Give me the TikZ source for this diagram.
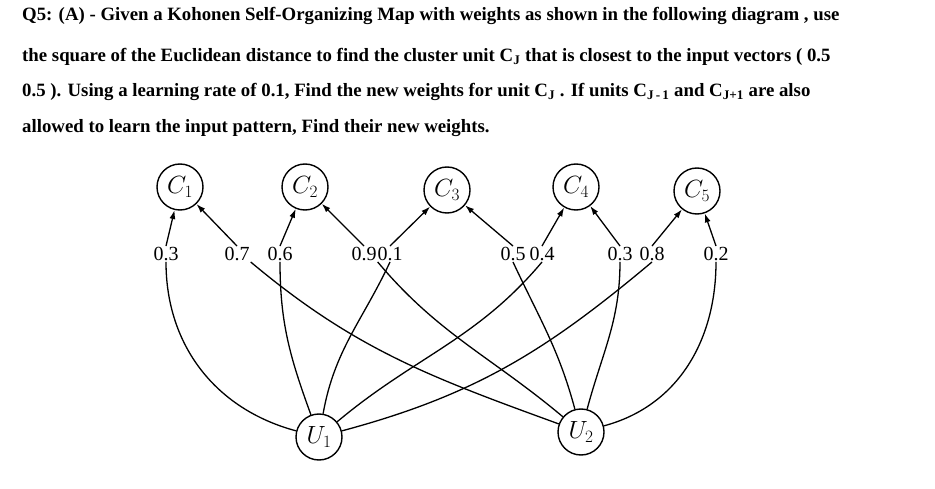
\documentclass[tikz,border=0pt]{standalone}
\usepackage{fontspec}
\setmainfont{Liberation Serif}
\usetikzlibrary{arrows.meta}
\begin{document}
\begin{tikzpicture}[x=1pt,y=-1pt,
  unit/.style={draw,circle,line width=1.4pt,minimum size=46pt,inner sep=0pt,font=\fontsize{24}{24}\selectfont},
  wt/.style={inner sep=1pt,font=\fontsize{20}{20}\selectfont},
  txt/.style={anchor=west,inner sep=0pt,font=\bfseries\fontsize{18.8}{20}\selectfont},
  arr/.style={line width=1.3pt,-{Latex[length=9pt,width=6pt]}},
  ln/.style={line width=1.3pt}]
\useasboundingbox (0,0) rectangle (935,489);
\node[txt] (t1) at (22,16) {Q5: (A) - Given a Kohonen Self-Organizing Map with weights as shown in the following diagram , use};
\node[txt] (t2) at (22,57) {the square of the Euclidean distance to find the cluster unit C\textsubscript{J} that is closest to the input vectors ( 0.5};
\node[txt] (t3) at (22,92) {0.5 ). Using a learning rate of 0.1, Find the new weights for unit C\textsubscript{J} . If units C\textsubscript{J\,-\,1} and C\textsubscript{J+1} are also};
\node[txt] (t4) at (22,128) {allowed to learn the input pattern, Find their new weights.};
\node[unit] (c1) at (180,187) {$C_1$};
\node[unit] (c2) at (305,187) {$C_2$};
\node[unit] (c3) at (447,190) {$C_3$};
\node[unit] (c4) at (576,187) {$C_4$};
\node[unit] (c5) at (697,191) {$C_5$};
\node[unit] (u1) at (319,437) {$U_1$};
\node[unit] (u2) at (581,432) {$U_2$};
\node[wt] (a1) at (166,254) {0.3};
\node[wt] (b1) at (237,254) {0.7};
\node[wt] (a2) at (280,254) {0.6};
\node[wt] (b2) at (364,254) {0.9};
\node[wt] (a3) at (390,254) {0.1};
\node[wt] (b3) at (513,254) {0.5};
\node[wt] (a4) at (542,254) {0.4};
\node[wt] (b4) at (620,254) {0.3};
\node[wt] (a5) at (652,254) {0.8};
\node[wt] (b5) at (716,254) {0.2};
\draw[ln] (u1) to[out=165,in=-90] (a1.south);
\draw[ln] (u1) to[out=110,in=-90] (a2.south);
\draw[ln] (u1) to[out=80,in=-115] (a3.south);
\draw[ln] (u1) to[out=40,in=-130] (a4.south);
\draw[ln] (u1) to[out=15,in=-140] (a5.south);
\draw[ln] (u2) to[out=160,in=-40] (b1.south east);
\draw[ln] (u2) to[out=140,in=-50] (b2.south east);
\draw[ln] (u2) to[out=105,in=-65] (b3.south);
\draw[ln] (u2) to[out=75,in=-90] (b4.south);
\draw[ln] (u2) to[out=15,in=-90] (b5.south);
\draw[arr] (a1.north) -- (c1);
\draw[arr] (b1.north) -- (c1);
\draw[arr] (a2.north) -- (c2);
\draw[arr] (b2.north) -- (c2);
\draw[arr] (a3.north) -- (c3);
\draw[arr] (b3.north) -- (c3);
\draw[arr] (a4.north) -- (c4);
\draw[arr] (b4.north) -- (c4);
\draw[arr] (a5.north) -- (c5);
\draw[arr] (b5.north) -- (c5);
\end{tikzpicture}
\end{document}
